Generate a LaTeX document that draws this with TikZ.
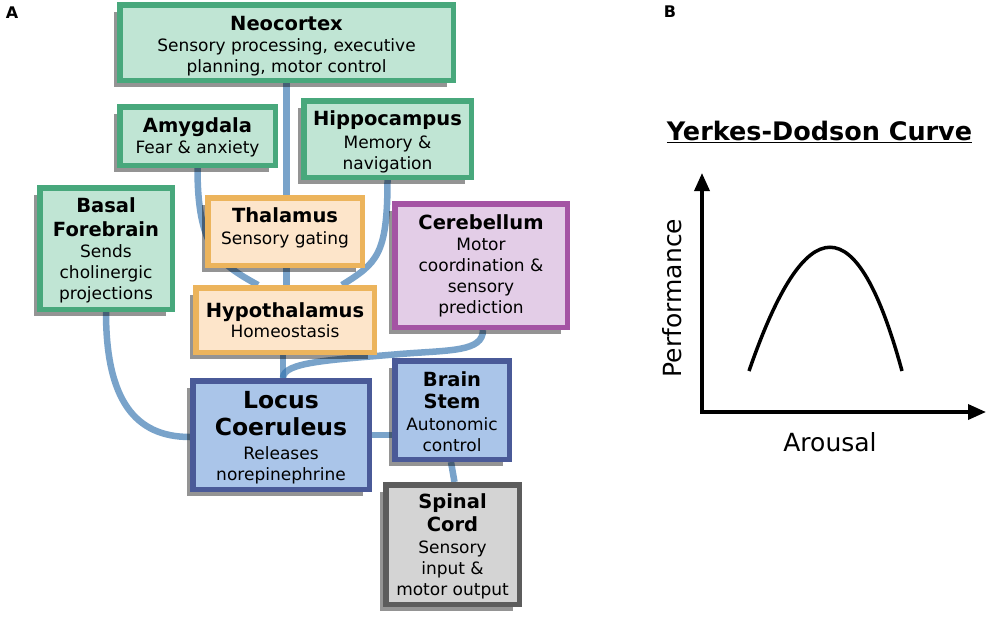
\documentclass[tikz,border=0pt]{standalone}
\usepackage{fontspec}
\setmainfont{DejaVu Sans}
\usetikzlibrary{shadows,arrows.meta}
\pgfdeclarelayer{bg}
\pgfsetlayers{bg,main}
\definecolor{grnB}{RGB}{72,168,124}
\definecolor{grnF}{RGB}{192,229,212}
\definecolor{orgB}{RGB}{236,180,92}
\definecolor{orgF}{RGB}{253,229,202}
\definecolor{purB}{RGB}{164,84,164}
\definecolor{purF}{RGB}{227,205,231}
\definecolor{bluB}{RGB}{74,90,152}
\definecolor{bluF}{RGB}{170,197,233}
\definecolor{gryB}{RGB}{92,92,92}
\definecolor{gryF}{RGB}{212,212,212}
\definecolor{lnk}{RGB}{50,115,175}
\newcommand\boxtitle[1]{{\fontsize{19.5}{21}\selectfont\bfseries #1}}
\newcommand\bigtitle[1]{{\fontsize{23.5}{27}\selectfont\bfseries #1}}
\tikzset{
  box/.style={rectangle, line width=5.5pt, inner sep=0pt, align=center,
    font=\fontsize{17}{21}\selectfont, text=black,
    drop shadow={shadow xshift=-6pt, shadow yshift=-7pt, fill=black, opacity=0.42}},
  greenbox/.style={box, draw=grnB, fill=grnF},
  orangebox/.style={box, draw=orgB, fill=orgF},
  purplebox/.style={box, draw=purB, fill=purF},
  bluebox/.style={box, draw=bluB, fill=bluF},
  graybox/.style={box, draw=gryB, fill=gryF},
  link/.style={line width=6.5pt, draw=lnk, draw opacity=0.65},
  axisline/.style={line width=3.5pt, line join=miter, {Triangle[length=18pt,width=15pt]}-{Triangle[length=18pt,width=15pt]}},
  panel/.style={font=\fontsize{16}{18}\selectfont\bfseries},
  axlabel/.style={font=\fontsize{25}{29}\selectfont},
}
\begin{document}
\begin{tikzpicture}[x=1pt,y=-1pt]
\path[use as bounding box] (0,0) rectangle (987,616);

% panel labels
\node[panel] (labA) at (12,13) {A};
\node[panel] (labB) at (670,12) {B};

% boxes
\node[greenbox, minimum width=333.5pt, minimum height=75.5pt] (neo) at (286.5,42.5)
  {\rule{0pt}{22pt}\boxtitle{Neocortex}\\Sensory processing, executive\\planning, motor control};
\node[greenbox, minimum width=155.5pt, minimum height=58.5pt] (amy) at (197.5,136)
  {\rule{0pt}{18pt}\boxtitle{Amygdala}\\Fear \& anxiety};
\node[greenbox, minimum width=167.5pt, minimum height=76.5pt] (hip) at (387.5,139)
  {\rule{0pt}{20pt}\boxtitle{Hippocampus}\\[2pt]Memory \&\\navigation};
\node[greenbox, minimum width=132.5pt, minimum height=121.5pt] (bf) at (106,248.5)
  {\rule{0pt}{18pt}\boxtitle{Basal}\\[3pt]\boxtitle{Forebrain}\\Sends\\cholinergic\\projections};
\node[orangebox, minimum width=154.5pt, minimum height=67.5pt] (thal) at (285,231.5)
  {\boxtitle{Thalamus}\\[1pt]Sensory gating\rule[-10pt]{0pt}{10pt}};
\node[orangebox, minimum width=178.5pt, minimum height=64.5pt] (hyp) at (285,320)
  {\boxtitle{Hypothalamus}\\[-1.5pt]Homeostasis};
\node[purplebox, minimum width=172.5pt, minimum height=123.5pt] (cer) at (481,265.5)
  {\boxtitle{Cerebellum}\\Motor\\coordination \&\\sensory\\prediction};
\node[bluebox, minimum width=176.5pt, minimum height=108.5pt] (lc) at (281,435)
  {\rule{0pt}{23pt}\bigtitle{Locus}\\[6pt]\bigtitle{Coeruleus}\\[3pt]Releases\\norepinephrine};
\node[bluebox, minimum width=114.5pt, minimum height=98.5pt] (bs) at (452,410)
  {\rule{0pt}{18pt}\boxtitle{Brain}\\[1pt]\boxtitle{Stem}\\[1pt]Autonomic\\control};
\node[graybox, minimum width=133.5pt, minimum height=119.5pt] (sc) at (452.5,544.5)
  {\rule{0pt}{18pt}\boxtitle{Spinal}\\[2pt]\boxtitle{Cord}\\[1pt]Sensory\\input \&\\motor output};

\coordinate (cmid) at (400,354);

% connectors
\begin{pgfonlayer}{bg}
\fill[white] (0,0) rectangle (987,616);
\draw[link] (neo.south) -- (neo.south |- hyp.north);
\draw[link] (amy.south) .. controls +(0,80) and +(-40,-22) .. ([xshift=-27pt]hyp.north);
\draw[link] (hip.south) .. controls +(0,75) and +(35,-22) .. ([xshift=57pt]hyp.north);
\draw[link] ([xshift=2pt]cer.south) .. controls +(0,22) and +(50,-4) .. (cmid)
  .. controls +(-70,6) and +(0,-16) .. ([xshift=2pt]lc.north);
\draw[link] ([xshift=2pt]lc.north |- hyp.south) -- ([xshift=2pt]lc.north);
\draw[link] (bf.south) .. controls +(0,88) and +(-55,0) .. ([yshift=-2pt]lc.west);
\draw[link] (lc.east) -- (lc.east -| bs.west);
\draw[link] ([xshift=-1pt]bs.south) -- ([xshift=2pt]sc.north);
\end{pgfonlayer}

% panel B
\node[font=\fontsize{25.5}{29}\selectfont\bfseries] (ydtitle) at (819.5,132)
  {\underline{Yerkes-Dodson Curve}};
\coordinate (ytop) at (702,173);
\coordinate (orig) at (702,412);
\coordinate (xend) at (986,412);
\draw[axisline] (ytop) -- (orig) -- (xend);
\draw[line width=3.5pt] (749,371) .. controls (806,206) and (857,206) .. (902,371);
\node[axlabel, rotate=90] (perf) at (672,298) {Performance};
\node[axlabel] (arousal) at (830,442) {Arousal};
\end{tikzpicture}
\end{document}
